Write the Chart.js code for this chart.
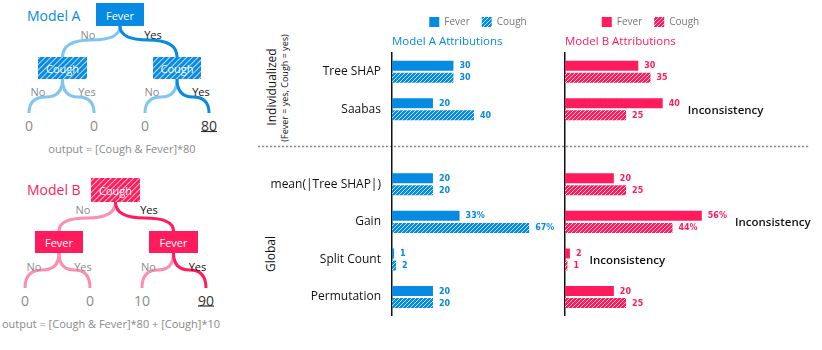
<!DOCTYPE html>
<html>
<head>
<meta charset="utf-8">
<script src="https://cdn.jsdelivr.net/npm/chart.js@4.4.1/dist/chart.umd.min.js"></script>
<style>
    body { margin: 0; background: #fff; font-family: "Open Sans", sans-serif; }
    #wrap { position: relative; width: 822px; height: 350px; overflow: hidden; }
    .box { position: absolute; top: 0; height: 350px; }
    .rot { position: absolute; transform: translate(-50%, -50%) rotate(-90deg); white-space: nowrap; line-height: 1; color: #111; }
    svg text { font-family: "Open Sans", sans-serif; }
</style>
</head>
<body>
<div id="wrap">
    <svg id="trees" width="260" height="350" style="position:absolute;left:0;top:0"></svg>
    <svg width="822" height="350" style="position:absolute;left:0;top:0">
        <line x1="258" y1="146.5" x2="810" y2="146.5" stroke="#8a8a8a" stroke-width="1.3" stroke-dasharray="2.2,1.8"/>
    </svg>
    <div class="rot" style="left:272px;top:87px;font-size:12px">Individualized</div>
    <div class="rot" style="left:284px;top:88px;font-size:9px">(Fever = yes, Cough = yes)</div>
    <div class="rot" style="left:271px;top:254px;font-size:12px">Global</div>
    <div class="box" style="left:262px;width:308px"><canvas id="chartA"></canvas></div>
    <div class="box" style="left:560px;width:262px"><canvas id="chartB"></canvas></div>
</div>
<script>
// chart data
const categories = ["Tree SHAP", "Saabas", "", "mean(|Tree SHAP|)", "Gain", "Split Count", "Permutation"];
const modelAFever = [30, 20, null, 20, 33, 1, 20];
const modelACough = [30, 40, null, 20, 67, 2, 20];
const modelBFever = [30, 40, null, 20, 56, 2, 20];
const modelBCough = [35, 25, null, 25, 44, 1, 25];
const valueSuffix = ["", "", "", "", "%", "", ""];
const inconsistentB = [false, true, false, false, true, true, false];

const blue = "#068ae2";
const lightBlue = "#82c5f0";
const pink = "#ff1b5c";
const lightPink = "#ff8db0";
const grey = "#8a8a8a";

// diagonal hatch used for the Cough bars
function hatch(color) {
    const c = document.createElement("canvas");
    c.width = 4; c.height = 4;
    const g = c.getContext("2d");
    g.fillStyle = color;
    g.fillRect(0, 0, 4, 4);
    g.strokeStyle = "rgba(255,255,255,0.75)";
    g.lineWidth = 1;
    g.beginPath();
    g.moveTo(0, 4); g.lineTo(4, 0);
    g.moveTo(-1, 1); g.lineTo(1, -1);
    g.moveTo(3, 5); g.lineTo(5, 3);
    g.stroke();
    return g.createPattern(c, "repeat");
}

// value labels next to bars + "Inconsistency" notes
const barNotes = {
    id: "barNotes",
    afterDatasetsDraw(chart, args, opts) {
        const ctx = chart.ctx;
        ctx.save();
        ctx.textBaseline = "middle";
        ctx.textAlign = "left";
        ctx.font = 'bold 8px "DejaVu Sans"';
        ctx.fillStyle = opts.color;
        const ends = [];
        chart.data.datasets.forEach((ds, di) => {
            chart.getDatasetMeta(di).data.forEach((bar, i) => {
                const v = ds.data[i];
                if (v == null) return;
                const t = v + valueSuffix[i];
                ctx.fillText(t, bar.x + 6, bar.y + 0.5);
                ends[i] = Math.max(ends[i] || 0, bar.x + 6 + ctx.measureText(t).width);
            });
        });
        if (opts.notes) {
            ctx.font = '600 11.5px "Open Sans"';
            ctx.fillStyle = "#111";
            opts.notes.forEach((flag, i) => {
                if (!flag) return;
                ctx.fillText("Inconsistency", ends[i] + 8, chart.scales.y.getPixelForValue(i) + 1);
            });
        }
        ctx.restore();
    }
};

function makeChart(id, fever, cough, color, title, xMax, axisWidth, padRight, notes) {
    return new Chart(document.getElementById(id), {
        type: "bar",
        data: {
            labels: categories,
            datasets: [
                { label: "Fever", data: fever, backgroundColor: color, borderWidth: 0 },
                { label: "Cough", data: cough, backgroundColor: hatch(color), borderWidth: 0 }
            ]
        },
        options: {
            indexAxis: "y",
            responsive: true,
            maintainAspectRatio: false,
            animation: false,
            categoryPercentage: 0.64,
            barPercentage: 0.833,
            layout: { padding: { left: 0, right: padRight, top: 5, bottom: 34.25 } },
            scales: {
                x: { display: false, min: 0, max: xMax },
                y: {
                    grid: { display: false, drawTicks: false },
                    border: { display: true, color: "#111", width: 1.5 },
                    ticks: {
                        display: axisWidth > 20,
                        padding: 11,
                        color: "#111",
                        font: { size: 12, family: "Open Sans" }
                    },
                    afterFit(s) { s.width = axisWidth; }
                }
            },
            plugins: {
                legend: {
                    position: "top",
                    align: "center",
                    fullSize: false,
                    weight: 3000,
                    labels: {
                        boxWidth: 10,
                        boxHeight: 10,
                        padding: 12,
                        color: "#777",
                        font: { size: 10, family: "Open Sans" }
                    }
                },
                title: {
                    display: true,
                    text: title,
                    align: "start",
                    fullSize: false,
                    color: color,
                    font: { size: 11.5, weight: "normal", family: "Open Sans" },
                    padding: { top: -2.5, bottom: 4.6 }
                },
                tooltip: { enabled: false },
                barNotes: { color: color, notes: notes }
            }
        },
        plugins: [barNotes]
    });
}

makeChart("chartA", modelAFever, modelACough, blue, "Model A Attributions", 84, 130, 6, null);
makeChart("chartB", modelBFever, modelBCough, pink, "Model B Attributions", 70, 5, 86, inconsistentB);

// decision tree diagrams
const NS = "http://www.w3.org/2000/svg";
const svg = document.getElementById("trees");
const defs = document.createElementNS(NS, "defs");
svg.appendChild(defs);

function add(parent, tag, attrs, text) {
    const e = document.createElementNS(NS, tag);
    for (const k in attrs) e.setAttribute(k, attrs[k]);
    if (text != null) e.textContent = text;
    parent.appendChild(e);
    return e;
}

function svgHatch(id, color) {
    const p = add(defs, "pattern", { id: id, width: 4, height: 4, patternUnits: "userSpaceOnUse", patternTransform: "rotate(45)" });
    add(p, "rect", { width: 4, height: 4, fill: color });
    add(p, "line", { x1: 0.5, y1: 0, x2: 0.5, y2: 4, stroke: "#fff", "stroke-width": 1.1, opacity: 0.7 });
}
svgHatch("hatchBlue", blue);
svgHatch("hatchPink", pink);

function branch(x0, y0, x1, y1, ym, color) {
    const xm = (x0 + x1) / 2;
    add(svg, "path", {
        d: `M${x0} ${y0} Q${x0} ${ym} ${xm} ${ym} Q${x1} ${ym} ${x1} ${y1}`,
        stroke: color, "stroke-width": 3, fill: "none"
    });
}
function node(cx, cy, w, h, fill, label) {
    add(svg, "rect", { x: cx - w / 2, y: cy - h / 2, width: w, height: h, fill: fill });
    add(svg, "text", { x: cx, y: cy + 0.5, fill: "#fff", "font-size": 11, "text-anchor": "middle", "dominant-baseline": "central" }, label);
}
function txt(x, y, s, color, size, anchor) {
    add(svg, "text", { x: x, y: y, fill: color, "font-size": size, "text-anchor": anchor || "middle", "dominant-baseline": "central" }, s);
}
function underline(x0, x1, y) {
    add(svg, "line", { x1: x0, y1: y, x2: x1, y2: y, stroke: "#333", "stroke-width": 1.2 });
}

// Model A
txt(27, 15, "Model A", blue, 14, "start");
branch(120, 26, 62.5, 57, 40, lightBlue);
branch(120, 26, 177, 57, 40, blue);
branch(62.5, 79, 29, 113, 97, lightBlue);
branch(62.5, 79, 94, 113, 97, lightBlue);
branch(177, 79, 145, 113, 97, lightBlue);
branch(177, 79, 209, 113, 97, blue);
node(120, 14.5, 48, 23, blue, "Fever");
node(62.5, 68, 49, 22, "url(#hatchBlue)", "Cough");
node(177, 68, 48, 22, "url(#hatchBlue)", "Cough");
txt(88, 34, "No", grey, 11);
txt(153, 34, "Yes", "#111", 11);
txt(38, 91, "No", grey, 11);
txt(87, 91, "Yes", grey, 11);
txt(152, 91, "No", grey, 11);
txt(201, 91, "Yes", "#111", 11);
txt(29, 125, "0", grey, 14);
txt(94, 125, "0", grey, 14);
txt(145, 125, "0", grey, 14);
txt(209, 125, "80", "#333", 14);
underline(201, 217, 131.5);
txt(122, 148, "output = [Cough & Fever]*80", grey, 11);

// Model B
txt(27, 189, "Model B", pink, 14, "start");
branch(115.5, 202, 59, 231, 218, lightPink);
branch(115.5, 202, 173.5, 231, 218, pink);
branch(59, 253, 25, 288, 270, lightPink);
branch(59, 253, 90, 288, 270, lightPink);
branch(173.5, 253, 142, 288, 270, lightPink);
branch(173.5, 253, 206, 288, 270, pink);
node(115.5, 190, 49, 24, "url(#hatchPink)", "Cough");
node(59, 242, 48, 22, pink, "Fever");
node(173.5, 242, 49, 22, pink, "Fever");
txt(83, 209, "No", grey, 11);
txt(149, 209, "Yes", "#111", 11);
txt(34, 266, "No", grey, 11);
txt(83, 266, "Yes", grey, 11);
txt(148.5, 266, "No", grey, 11);
txt(197.5, 266, "Yes", "#111", 11);
txt(25, 300, "0", grey, 14);
txt(90, 300, "0", grey, 14);
txt(142, 300, "10", grey, 14);
txt(206, 300, "90", "#333", 14);
underline(198, 214, 306);
txt(111, 323, "output = [Cough & Fever]*80 + [Cough]*10", grey, 11);
</script>
</body>
</html>
